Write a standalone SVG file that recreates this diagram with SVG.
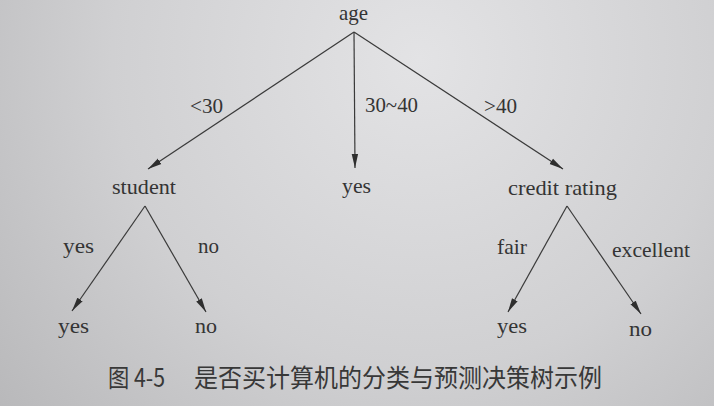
<svg xmlns="http://www.w3.org/2000/svg" width="714" height="406" viewBox="0 0 714 406">
<defs>
<radialGradient id="bg" cx="420" cy="60" r="560" gradientUnits="userSpaceOnUse">
<stop offset="0" stop-color="#e3e3e5"/>
<stop offset="0.55" stop-color="#d0d0d2"/>
<stop offset="1" stop-color="#b7b7b9"/>
</radialGradient>
<marker id="arr" viewBox="-14 -4 15 8" refX="0" refY="0" markerWidth="15" markerHeight="8" markerUnits="userSpaceOnUse" orient="auto">
<path d="M0,0 L-14,-3.2 L-14,3.2 Z" fill="#2e2e2e"/>
</marker>
<style>
.t{font-family:"Liberation Serif","Times New Roman",serif;font-size:21px;fill:#343434}
.c{font-family:"Noto Sans CJK SC","Noto Sans CJK JP",sans-serif;font-size:25px;fill:#383838}
.e{stroke:#3a3a3a;stroke-width:1.2;fill:none;marker-end:url(#arr)}
</style>
</defs>
<rect width="714" height="406" fill="url(#bg)"/>
<g id="connectors">
<line class="e" x1="354" y1="32" x2="148" y2="169"/>
<line class="e" x1="354" y1="32" x2="355" y2="168"/>
<line class="e" x1="354" y1="32" x2="563" y2="169"/>
<line class="e" x1="145" y1="206" x2="72" y2="311"/>
<line class="e" x1="145" y1="206" x2="206" y2="312"/>
<line class="e" x1="567" y1="206" x2="508" y2="312"/>
<line class="e" x1="567" y1="206" x2="641" y2="314"/>
<text class="t" x="190" y="113" textLength="33" lengthAdjust="spacingAndGlyphs">&lt;30</text>
<text class="t" x="365" y="112" textLength="53" lengthAdjust="spacingAndGlyphs">30~40</text>
<text class="t" x="484" y="113" textLength="33" lengthAdjust="spacingAndGlyphs">&gt;40</text>
<text class="t" x="63" y="253" textLength="31" lengthAdjust="spacingAndGlyphs">yes</text>
<text class="t" x="198" y="253" textLength="21" lengthAdjust="spacingAndGlyphs">no</text>
<text class="t" x="497" y="254" textLength="30" lengthAdjust="spacingAndGlyphs">fair</text>
<text class="t" x="612" y="257" textLength="78" lengthAdjust="spacingAndGlyphs">excellent</text>
</g>
<g id="node-age"><text class="t" x="339" y="20" textLength="29" lengthAdjust="spacingAndGlyphs">age</text></g>
<g id="node-student"><text class="t" x="112" y="194" textLength="64" lengthAdjust="spacingAndGlyphs">student</text></g>
<g id="node-yes-mid"><text class="t" x="342" y="193" textLength="29" lengthAdjust="spacingAndGlyphs">yes</text></g>
<g id="node-credit"><text class="t" x="508" y="195" textLength="109" lengthAdjust="spacingAndGlyphs">credit rating</text></g>
<g id="node-yes-1"><text class="t" x="58" y="333" textLength="31" lengthAdjust="spacingAndGlyphs">yes</text></g>
<g id="node-no-1"><text class="t" x="195" y="333" textLength="22" lengthAdjust="spacingAndGlyphs">no</text></g>
<g id="node-yes-2"><text class="t" x="497" y="333" textLength="30" lengthAdjust="spacingAndGlyphs">yes</text></g>
<g id="node-no-2"><text class="t" x="629" y="336" textLength="23" lengthAdjust="spacingAndGlyphs">no</text></g>
<g id="caption">
<text class="c" x="108" y="387" textLength="57" lengthAdjust="spacingAndGlyphs">图 4-5</text>
<text class="c" x="194" y="387" textLength="408" lengthAdjust="spacingAndGlyphs">是否买计算机的分类与预测决策树示例</text>
</g>
</svg>
